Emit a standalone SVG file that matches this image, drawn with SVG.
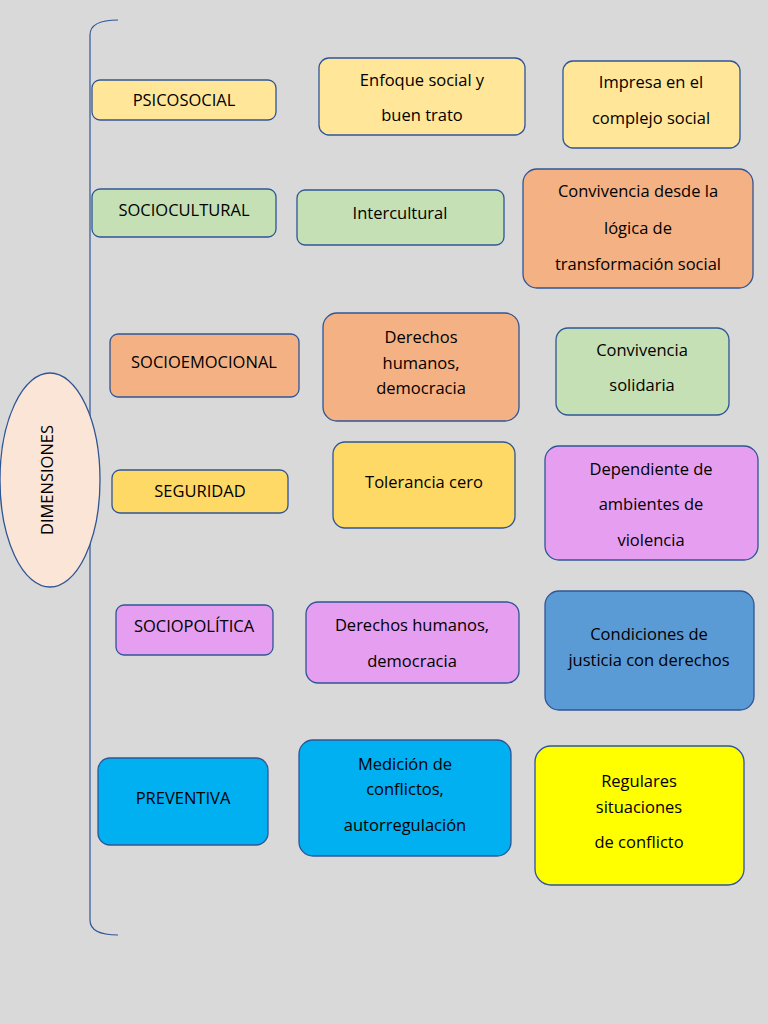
<svg xmlns="http://www.w3.org/2000/svg" width="768" height="1024" viewBox="0 0 768 1024">
<style>
.b{stroke:#2f5597;stroke-width:1.3}
text{font-family:"Open Sans","Liberation Sans",sans-serif;font-size:16.5px;fill:#000;text-anchor:middle;dominant-baseline:central}
.y{fill:#ffe699}.g{fill:#c5e0b4}.o{fill:#f4b183}.d{fill:#ffd966}.v{fill:#e59ef0}.bl{fill:#5b9bd5}.c{fill:#00b0f0}.ye{fill:#ffff00}
</style>
<rect width="768" height="1024" fill="#d9d9d9"/>
<g id="connectors">
<path d="M118,20 Q90,20 90,35 L90,465 Q90,478 80,478 Q90,478 90,491 L90,920 Q90,935 118,935" fill="none" stroke="#2f5597" stroke-width="1.2"/>
</g>
<g id="dimensiones"><ellipse cx="50" cy="480" rx="50" ry="107" fill="#fbe5d6" class="b"/><text x="46" y="480" transform="rotate(-90 46 480)">DIMENSIONES</text></g>
<g id="psicosocial"><rect x="92" y="80" width="184" height="40" rx="8" class="b y"/><text x="184" y="99">PSICOSOCIAL</text></g>
<g id="enfoque"><rect x="319" y="58" width="206" height="77" rx="10" class="b y"/><text x="422" y="79">Enfoque social y</text><text x="422" y="114">buen trato</text></g>
<g id="impresa"><rect x="563" y="61" width="177" height="87" rx="10" class="b y"/><text x="651" y="81">Impresa en el</text><text x="651" y="117">complejo social</text></g>
<g id="sociocultural"><rect x="92" y="189" width="184" height="48" rx="8" class="b g"/><text x="184" y="209">SOCIOCULTURAL</text></g>
<g id="intercultural"><rect x="297" y="190" width="207" height="55" rx="8" class="b g"/><text x="400" y="212">Intercultural</text></g>
<g id="convivencia1"><rect x="523" y="169" width="230" height="119" rx="14" class="b o"/><text x="638" y="190">Convivencia desde la</text><text x="638" y="227">lógica de</text><text x="638" y="263">transformación social</text></g>
<g id="socioemocional"><rect x="110" y="334" width="189" height="63" rx="8" class="b o"/><text x="204" y="361">SOCIOEMOCIONAL</text></g>
<g id="derechos1"><rect x="323" y="313" width="196" height="108" rx="14" class="b o"/><text x="421" y="336">Derechos</text><text x="421" y="362">humanos,</text><text x="421" y="387">democracia</text></g>
<g id="convivencia2"><rect x="556" y="328" width="173" height="87" rx="12" class="b g"/><text x="642" y="349">Convivencia</text><text x="642" y="384">solidaria</text></g>
<g id="seguridad"><rect x="112" y="470" width="176" height="43" rx="8" class="b d"/><text x="200" y="490">SEGURIDAD</text></g>
<g id="tolerancia"><rect x="333" y="442" width="182" height="86" rx="12" class="b d"/><text x="424" y="481">Tolerancia cero</text></g>
<g id="dependiente"><rect x="545" y="446" width="213" height="114" rx="14" class="b v"/><text x="651" y="468">Dependiente de</text><text x="651" y="503">ambientes de</text><text x="651" y="539">violencia</text></g>
<g id="sociopolitica"><rect x="116" y="605" width="157" height="50" rx="8" class="b v"/><text x="194" y="625">SOCIOPOLÍTICA</text></g>
<g id="derechos2"><rect x="306" y="602" width="213" height="81" rx="12" class="b v"/><text x="412" y="624">Derechos humanos,</text><text x="412" y="660">democracia</text></g>
<g id="condiciones"><rect x="545" y="591" width="209" height="119" rx="14" class="b bl"/><text x="649" y="633">Condiciones de</text><text x="649" y="659">justicia con derechos</text></g>
<g id="preventiva"><rect x="98" y="758" width="170" height="87" rx="12" class="b c"/><text x="183" y="797">PREVENTIVA</text></g>
<g id="medicion"><rect x="299" y="740" width="212" height="116" rx="14" class="b c"/><text x="405" y="763">Medición de</text><text x="405" y="788">conflictos,</text><text x="405" y="824">autorregulación</text></g>
<g id="regulares"><rect x="535" y="746" width="209" height="139" rx="16" class="b ye"/><text x="639" y="780">Regulares</text><text x="639" y="806">situaciones</text><text x="639" y="841">de conflicto</text></g>
</svg>
